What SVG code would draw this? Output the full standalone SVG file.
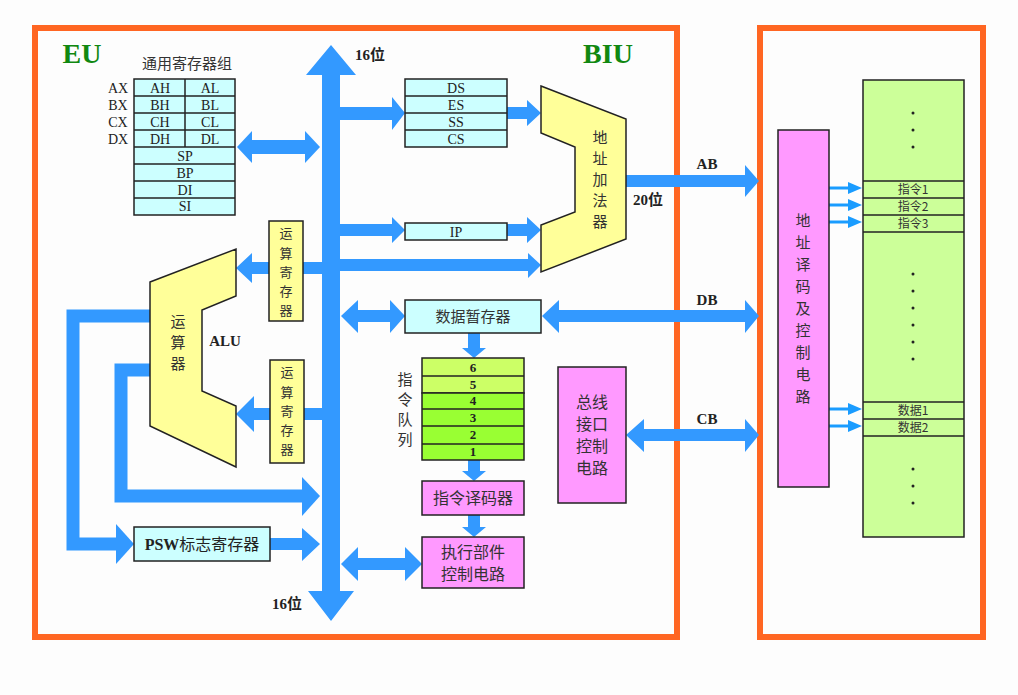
<svg xmlns="http://www.w3.org/2000/svg" width="1018" height="695" viewBox="0 0 1018 695">
<style>
.t{font-family:"Liberation Serif","Noto Sans CJK SC",serif;fill:#222;text-anchor:middle}
.c{font-family:"Noto Sans CJK SC","Liberation Serif",sans-serif;fill:#333;text-anchor:middle}
.b{font-weight:bold}
.cy{fill:#ccffff;stroke:#222;stroke-width:1.5}
.ye{fill:#ffff99;stroke:#222;stroke-width:1.5}
.pk{fill:#ff99ff;stroke:#222;stroke-width:1.5}
.ar{fill:#3399ff}
.fr{fill:none;stroke:#ff6622;stroke-width:6}
</style>
<rect width="1018" height="695" fill="#fdfdfd"/>
<rect class="fr" x="35" y="28" width="642" height="609"/>
<rect class="fr" x="760" y="28" width="223" height="609"/>
<text class="t b" x="82" y="63" font-size="28" style="fill:#118811">EU</text>
<text class="t b" x="608" y="63" font-size="28" style="fill:#118811">BIU</text>
<g id="connectors">
<polygon class="ar" points="331,45 356,75 340,75 340,591 354,591 331,621 308,591 322,591 322,75 306,75"/>
<polygon class="ar" points="237,147 252,131 252,140 305,140 305,131 320,147 305,163 305,154 252,154 252,163"/>
<polygon class="ar" points="340,107 392,107 392,97 405,113 392,130 392,120 340,120"/>
<polygon class="ar" points="507,107 527,107 527,100 541,113 527,126 527,119 507,119"/>
<polygon class="ar" points="340,224 392,224 392,217 405,230 392,243 392,236 340,236"/>
<polygon class="ar" points="507,224 527,224 527,217 541,230 527,243 527,236 507,236"/>
<polygon class="ar" points="340,259 528,259 528,253 541,265 528,278 528,271 340,271"/>
<polygon class="ar" points="322,262 252,262 252,253 236,268 252,283 252,274 322,274"/>
<polygon class="ar" points="322,408 254,408 254,396 236,414 254,432 254,420 322,420"/>
<polygon class="ar" points="626,175 745,175 745,165 759,181 745,197 745,187 626,187"/>
<polygon class="ar" points="542,316 559,300 559,310 745,310 745,300 759,316 745,333 745,322 559,322 559,333"/>
<polygon class="ar" points="626,435 644,419 644,429 745,429 745,419 759,435 745,452 745,441 644,441 644,452"/>
<polygon class="ar" points="341,316 358,300 358,310 390,310 390,300 405,316 390,333 390,322 358,322 358,333"/>
<polygon class="ar" points="341,564 358,547 358,558 405,558 405,547 422,564 405,581 405,570 358,570 358,581"/>
<polygon class="ar" points="468,333 480,333 480,348 486,348 474,358 462,348 468,348"/>
<polygon class="ar" points="468,460 480,460 480,471 486,471 474,481 462,471 468,471"/>
<polygon class="ar" points="468,515 480,515 480,527 486,527 474,537 462,527 468,527"/>
<polyline points="152,316 73,316 73,544 120,544" fill="none" stroke="#3399ff" stroke-width="13"/>
<polygon class="ar" points="116,524 134,544 116,564"/>
<polyline points="152,370 121,370 121,496 304,496" fill="none" stroke="#3399ff" stroke-width="13"/>
<polygon class="ar" points="302,477 320,496 302,516"/>
<polygon class="ar" points="270,538 302,538 302,528 320,544 302,561 302,550 270,550"/>
<g stroke="#1a9cff" stroke-width="3" fill="#1a9cff">
<line x1="829" y1="188" x2="850" y2="188"/><polygon points="848,182 862,188 848,194" stroke="none"/>
<line x1="829" y1="205" x2="850" y2="205"/><polygon points="848,199 862,205 848,211" stroke="none"/>
<line x1="829" y1="222" x2="850" y2="222"/><polygon points="848,216 862,222 848,228" stroke="none"/>
<line x1="829" y1="409" x2="850" y2="409"/><polygon points="848,403 862,409 848,415" stroke="none"/>
<line x1="829" y1="426" x2="850" y2="426"/><polygon points="848,420 862,426 848,432" stroke="none"/>
</g>
</g>
<text class="t b" x="370" y="60" font-size="15">16位</text>
<text class="t b" x="287" y="609" font-size="15">16位</text>
<text class="t b" x="648" y="205" font-size="15">20位</text>
<text class="t b" x="707" y="169" font-size="15">AB</text>
<text class="t b" x="707" y="305" font-size="15">DB</text>
<text class="t b" x="707" y="424" font-size="15">CB</text>
<g id="gpr">
<text class="c" x="187" y="69" font-size="15">通用寄存器组</text>
<rect class="cy" x="134" y="79" width="101" height="136"/>
<g stroke="#222" stroke-width="1.5"><line x1="134" y1="96" x2="235" y2="96"/><line x1="134" y1="113" x2="235" y2="113"/><line x1="134" y1="130" x2="235" y2="130"/><line x1="134" y1="147" x2="235" y2="147"/><line x1="134" y1="164" x2="235" y2="164"/><line x1="134" y1="181" x2="235" y2="181"/><line x1="134" y1="198" x2="235" y2="198"/><line x1="185" y1="79" x2="185" y2="147"/></g>
<g class="t" font-size="14">
<text x="118" y="93">AX</text><text x="118" y="110">BX</text><text x="118" y="127">CX</text><text x="118" y="144">DX</text>
<text x="160" y="93">AH</text><text x="210" y="93">AL</text><text x="160" y="110">BH</text><text x="210" y="110">BL</text>
<text x="160" y="127">CH</text><text x="210" y="127">CL</text><text x="160" y="144">DH</text><text x="210" y="144">DL</text>
<text x="185" y="161">SP</text><text x="185" y="178">BP</text><text x="185" y="195">DI</text><text x="185" y="211">SI</text>
</g></g>
<g id="segregs">
<rect class="cy" x="405" y="79" width="102" height="68"/>
<g stroke="#222" stroke-width="1.5"><line x1="405" y1="96" x2="507" y2="96"/><line x1="405" y1="113" x2="507" y2="113"/><line x1="405" y1="130" x2="507" y2="130"/></g>
<g class="t" font-size="14"><text x="456" y="93">DS</text><text x="456" y="110">ES</text><text x="456" y="127">SS</text><text x="456" y="144">CS</text></g>
</g>
<g id="ip"><rect class="cy" x="405" y="223" width="102" height="17"/><text class="t" x="456" y="237" font-size="14">IP</text></g>
<g id="adder">
<polygon class="ye" points="541,86 626,119 626,239 541,272 541,225 575,212 575,147 541,133"/>
<g class="c" font-size="15"><text x="600" y="143">地</text><text x="600" y="164">址</text><text x="600" y="185">加</text><text x="600" y="206">法</text><text x="600" y="227">器</text></g>
</g>
<g id="alureg1"><rect class="ye" x="269" y="221" width="34" height="100"/>
<g class="c" font-size="13"><text x="286" y="238">运</text><text x="286" y="258">算</text><text x="286" y="277">寄</text><text x="286" y="296">存</text><text x="286" y="315">器</text></g></g>
<g id="alureg2"><rect class="ye" x="270" y="360" width="34" height="103"/>
<g class="c" font-size="13"><text x="287" y="377">运</text><text x="287" y="397">算</text><text x="287" y="416">寄</text><text x="287" y="435">存</text><text x="287" y="454">器</text></g></g>
<g id="alu">
<polygon class="ye" points="150,282 236,249 236,296 202,310 202,391 236,406 236,467 150,426"/>
<g class="c" font-size="15"><text x="178" y="327">运</text><text x="178" y="348">算</text><text x="178" y="369">器</text></g>
<text class="t b" x="225" y="346" font-size="15">ALU</text>
</g>
<g id="psw"><rect class="cy" x="134" y="527" width="136" height="34"/><text class="t" x="202" y="550" font-size="16"><tspan font-weight="bold">PSW</tspan>标志寄存器</text></g>
<g id="datareg"><rect class="cy" x="405" y="300" width="136" height="33"/><text class="c" x="473" y="322" font-size="15">数据暂存器</text></g>
<g id="queue">
<rect x="422" y="358" width="102" height="35" fill="#ccff66" stroke="#222" stroke-width="1.5"/>
<rect x="422" y="393" width="102" height="67" fill="#99ff33" stroke="#222" stroke-width="1.5"/>
<g stroke="#222" stroke-width="1.5"><line x1="422" y1="376" x2="524" y2="376"/><line x1="422" y1="409" x2="524" y2="409"/><line x1="422" y1="426" x2="524" y2="426"/><line x1="422" y1="444" x2="524" y2="444"/></g>
<g class="t b" font-size="13"><text x="473" y="372">6</text><text x="473" y="389">5</text><text x="473" y="405">4</text><text x="473" y="422">3</text><text x="473" y="439">2</text><text x="473" y="456">1</text></g>
<g class="c" font-size="15"><text x="405" y="385">指</text><text x="405" y="405">令</text><text x="405" y="425">队</text><text x="405" y="445">列</text></g>
</g>
<g id="decoder"><rect class="pk" x="422" y="481" width="102" height="34"/><text class="c" x="473" y="504" font-size="16">指令译码器</text></g>
<g id="exec"><rect class="pk" x="422" y="537" width="102" height="51"/><text class="c" x="473" y="558" font-size="16">执行部件</text><text class="c" x="473" y="580" font-size="16">控制电路</text></g>
<g id="busctl"><rect class="pk" x="558" y="367" width="68" height="136"/>
<g class="c" font-size="16"><text x="592" y="408">总线</text><text x="592" y="430">接口</text><text x="592" y="452">控制</text><text x="592" y="474">电路</text></g></g>
<g id="addrdec"><rect class="pk" x="778" y="130" width="51" height="357"/>
<g class="c" font-size="15"><text x="803" y="226">地</text><text x="803" y="248">址</text><text x="803" y="270">译</text><text x="803" y="292">码</text><text x="803" y="314">及</text><text x="803" y="336">控</text><text x="803" y="358">制</text><text x="803" y="380">电</text><text x="803" y="402">路</text></g></g>
<g id="memory">
<rect x="863" y="80" width="101" height="457" fill="#ccff99" stroke="#222" stroke-width="1.5"/>
<g stroke="#222" stroke-width="1.5"><line x1="863" y1="181" x2="964" y2="181"/><line x1="863" y1="198" x2="964" y2="198"/><line x1="863" y1="215" x2="964" y2="215"/><line x1="863" y1="232" x2="964" y2="232"/><line x1="863" y1="402" x2="964" y2="402"/><line x1="863" y1="419" x2="964" y2="419"/><line x1="863" y1="436" x2="964" y2="436"/></g>
<g class="c" font-size="12"><text x="913" y="194">指令1</text><text x="913" y="211">指令2</text><text x="913" y="228">指令3</text><text x="913" y="415">数据1</text><text x="913" y="432">数据2</text></g>
<g fill="#222"><circle cx="913" cy="113" r="1.5"/><circle cx="913" cy="130" r="1.5"/><circle cx="913" cy="147" r="1.5"/><circle cx="913" cy="274" r="1.5"/><circle cx="913" cy="291" r="1.5"/><circle cx="913" cy="308" r="1.5"/><circle cx="913" cy="325" r="1.5"/><circle cx="913" cy="342" r="1.5"/><circle cx="913" cy="359" r="1.5"/><circle cx="913" cy="469" r="1.5"/><circle cx="913" cy="486" r="1.5"/><circle cx="913" cy="503" r="1.5"/></g>
</g>
</svg>
